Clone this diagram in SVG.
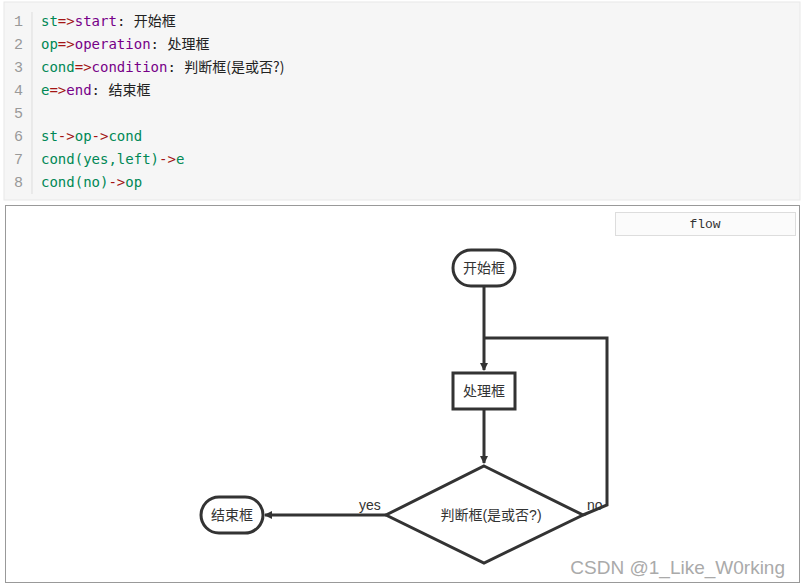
<svg xmlns="http://www.w3.org/2000/svg" width="801" height="586" viewBox="0 0 801 586">
<style>
.code{font-family:"DejaVu Sans Mono","Liberation Mono",monospace;font-size:14px}
.ln{fill:#999;font-family:"Liberation Mono",monospace;font-size:15px}
.g{fill:#008855}.p{fill:#770088}.r{fill:#a31515}.k{fill:#222}
.cjk{font-family:"Noto Sans CJK SC",sans-serif}
.nt{font-family:"Liberation Sans","Noto Sans CJK SC",sans-serif;font-size:14px;fill:#333}
.shape{fill:#fff;stroke:#333;stroke-width:3}
.conn{fill:none;stroke:#333;stroke-width:3}
</style>
<defs><marker id="ah" markerWidth="8" markerHeight="8" refX="7" refY="4" orient="auto" markerUnits="userSpaceOnUse"><path d="M0,0L8,4L0,8z" fill="#333"/></marker></defs>
<rect width="801" height="586" fill="#fff"/>
<rect x="4" y="2" width="796" height="198" fill="#f6f6f6" stroke="#e8e8e8"/>
<line x1="32" y1="12" x2="32" y2="194" stroke="#ddd"/>
<g class="ln"><text x="14" y="26">1</text><text x="14" y="49">2</text><text x="14" y="72">3</text><text x="14" y="95">4</text><text x="14" y="118">5</text><text x="14" y="141">6</text><text x="14" y="164">7</text><text x="14" y="187">8</text></g>
<g class="code">
<text x="41" y="26"><tspan class="g">st</tspan><tspan class="r">=&gt;</tspan><tspan class="p">start</tspan><tspan class="k">: </tspan><tspan class="k cjk">开始框</tspan></text>
<text x="41" y="49"><tspan class="g">op</tspan><tspan class="r">=&gt;</tspan><tspan class="p">operation</tspan><tspan class="k">: </tspan><tspan class="k cjk">处理框</tspan></text>
<text x="41" y="72"><tspan class="g">cond</tspan><tspan class="r">=&gt;</tspan><tspan class="p">condition</tspan><tspan class="k">: </tspan><tspan class="k cjk">判断框(是或否?)</tspan></text>
<text x="41" y="95"><tspan class="g">e</tspan><tspan class="r">=&gt;</tspan><tspan class="p">end</tspan><tspan class="k">: </tspan><tspan class="k cjk">结束框</tspan></text>
<text x="41" y="141"><tspan class="g">st</tspan><tspan class="r">-&gt;</tspan><tspan class="g">op</tspan><tspan class="r">-&gt;</tspan><tspan class="g">cond</tspan></text>
<text x="41" y="164"><tspan class="g">cond(yes,left)</tspan><tspan class="r">-&gt;</tspan><tspan class="g">e</tspan></text>
<text x="41" y="187"><tspan class="g">cond(no)</tspan><tspan class="r">-&gt;</tspan><tspan class="g">op</tspan></text>
</g>
<rect x="5.5" y="205.5" width="794" height="377" fill="#fff" stroke="#999"/>
<rect x="615.5" y="212.5" width="180" height="23" fill="#fbfbfb" stroke="#ddd"/>
<text x="705" y="228" text-anchor="middle" font-family="Liberation Mono,monospace" font-size="13" fill="#333">flow</text>
<g id="connectors">
<line class="conn" x1="484" y1="286" x2="484" y2="370" marker-end="url(#ah)"/>
<line class="conn" x1="484" y1="409" x2="484" y2="463" marker-end="url(#ah)"/>
<line class="conn" x1="386" y1="515" x2="265" y2="515" marker-end="url(#ah)"/>
<polyline class="conn" points="583,515 607,505 607,338 484,338"/>
<text class="nt" x="359" y="510">yes</text>
<text class="nt" x="587" y="510">no</text>
</g>
<g id="st"><rect class="shape" x="453" y="250" width="62" height="36" rx="18"/><text class="nt" x="484" y="273" text-anchor="middle">开始框</text></g>
<g id="op"><rect class="shape" x="453" y="373" width="62" height="36"/><text class="nt" x="484" y="396" text-anchor="middle">处理框</text></g>
<g id="cond"><polygon class="shape" points="484,466 583,515 484,563 386,515"/><text class="nt" x="491" y="520" text-anchor="middle">判断框(是或否?)</text></g>
<g id="e"><rect class="shape" x="201" y="497" width="62" height="36" rx="18"/><text class="nt" x="232" y="520" text-anchor="middle">结束框</text></g>
<text x="785" y="574" text-anchor="end" font-family="Liberation Sans,sans-serif" font-size="19" fill="#aaa">CSDN @1_Like_W0rking</text>
</svg>
